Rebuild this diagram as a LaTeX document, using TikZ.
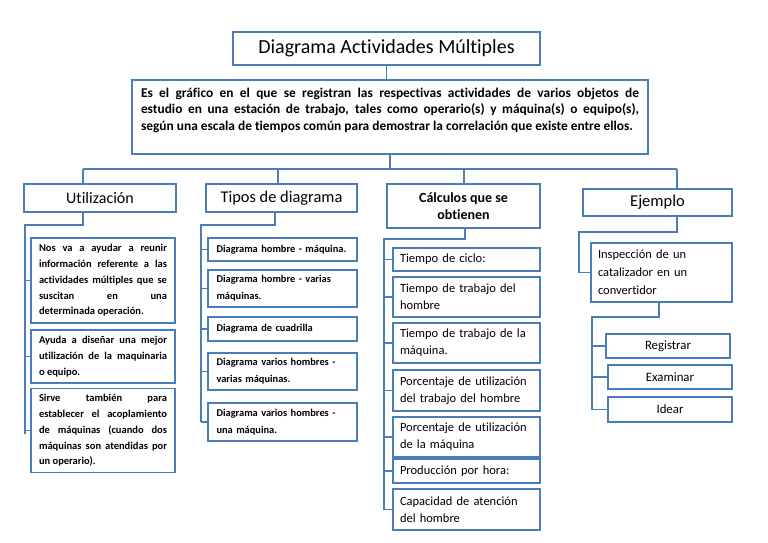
\documentclass[tikz,border=0pt]{standalone}
\usepackage{fontspec}
\setmainfont{Carlito}[Ligatures={NoCommon}]
\definecolor{bl}{RGB}{74,126,187}
\tikzset{
  bx/.style={draw=bl, line width=1.4pt, fill=white, inner xsep=0pt, inner ysep=0pt},
  con/.style={draw=bl, line width=1.8pt},
}
\begin{document}
\begin{tikzpicture}[x=1pt,y=-1pt]
\useasboundingbox (0,0) rectangle (768,543);
% level 0
\node[bx, minimum width=307pt, minimum height=33pt, font=\fontsize{20}{24}\selectfont] (title) at (386.5,48.5) {Diagrama Actividades Múltiples};
\node[bx, minimum width=516pt, minimum height=74pt, text width=498pt, text depth=49pt, align=justify, font=\fontsize{13.4}{16.5}\selectfont\bfseries] (desc) at (390,117) {Es el gráfico en el que se registran las respectivas actividades de varios objetos de\linebreak estudio en una estación de trabajo, tales como operario(s) y máquina(s) o equipo(s),\linebreak según una escala de tiempos común para demostrar la correlación que existe entre ellos.};
% level 1
\node[bx, minimum width=152pt, minimum height=28pt, font=\fontsize{16}{19}\selectfont] (util) at (100,198) {Utilización};
\node[bx, minimum width=151pt, minimum height=28pt, font=\fontsize{16.4}{19}\selectfont] (tipos) at (281.5,198) {Tipos de diagrama};
\node[bx, minimum width=153pt, minimum height=44pt, align=center, font=\fontsize{14}{17}\selectfont\bfseries] (calc) at (463.5,206) {Cálculos que se\\obtienen};
\node[bx, minimum width=149pt, minimum height=27pt, font=\fontsize{16.5}{19}\selectfont] (ejem) at (657.5,202.5) {Ejemplo};
% Utilizacion children
\tikzset{ut/.style={bx, minimum width=144pt, text width=128pt, align=justify, font=\fontsize{10.5}{15.7}\selectfont\bfseries}}
\node[ut, minimum height=85pt] (u1) at (103,280.5) {Nos va a ayudar a reunir\linebreak información referente a las\linebreak actividades múltiples que se\linebreak suscitan en una\linebreak determinada operación.};
\node[ut, minimum height=53pt] (u2) at (103,356.5) {Ayuda a diseñar una mejor\linebreak utilización de la maquinaria\linebreak o equipo.};
\node[ut, minimum height=84pt] (u3) at (103,430.5) {Sirve también para\linebreak establecer el acoplamiento\linebreak de máquinas (cuando dos\linebreak máquinas son atendidas por\linebreak un operario).};
% Tipos children
\tikzset{tp/.style={bx, minimum width=149pt, text width=132pt, align=left, font=\fontsize{10.4}{17}\selectfont\bfseries}}
\node[tp, minimum height=23pt] (t1) at (282.5,249.5) {Diagrama hombre - máquina.};
\node[tp, minimum height=37pt] (t2) at (282.5,288.5) {Diagrama hombre - varias\\máquinas.};
\node[tp, minimum height=24pt] (t3) at (282.5,329) {Diagrama de cuadrilla};
\node[tp, minimum height=37pt] (t4) at (282.5,371.5) {Diagrama varios hombres -\\varias máquinas.};
\node[tp, minimum height=38pt] (t5) at (282.5,422) {Diagrama varios hombres -\\una máquina.};
% Calculos children
\tikzset{cc/.style={bx, minimum width=147pt, text width=133pt, align=left, font=\fontsize{12.5}{17}\selectfont}}
\node[cc, minimum height=23pt] (c1) at (466.5,259.5) {Tiempo de ciclo:};
\node[cc, minimum height=40pt] (c2) at (466.5,297) {Tiempo de trabajo del\\hombre};
\node[cc, minimum height=40pt] (c3) at (466.5,343) {Tiempo de trabajo de la\\máquina.};
\node[cc, minimum height=41pt] (c4) at (466.5,390.5) {Porcentaje de utilización\\del trabajo del hombre};
\node[cc, minimum height=40pt] (c5) at (466.5,437) {Porcentaje de utilización\\de la máquina};
\node[cc, minimum height=24pt] (c6) at (466.5,471) {Producción por hora:};
\node[cc, minimum height=41pt] (c7) at (466.5,509.5) {Capacidad de atención\\del hombre};
% Ejemplo children
\node[bx, minimum width=141pt, minimum height=59pt, text width=127pt, align=left, font=\fontsize{12.5}{18}\selectfont] (insp) at (661.5,272.5) {Inspección de un\\catalizador en un\\convertidor};
\tikzset{ej/.style={bx, minimum width=124pt, minimum height=24pt, font=\fontsize{12.8}{15}\selectfont}}
\node[ej] (r1) at (668,346) {Registrar};
\node[ej] (r2) at (670,377) {Examinar};
\node[ej, minimum height=25pt] (r3) at (670,409.5) {Idear};
% connectors level 0/1
\coordinate (bus) at (390,169);
\coordinate (bl) at (83,169);
\coordinate (tb) at (278,169);
\coordinate (cb) at (464,169);
\coordinate (br) at (677,169);
\draw[con] (title.south) -- (title.south |- desc.north);
\draw[con] (desc.south) -- (desc.south |- bus);
\draw[con] (bl) -- (br);
\draw[con] (bl) -- (bl |- util.north);
\draw[con] (tb) -- (tb |- tipos.north);
\draw[con] (cb) -- (cb |- calc.north);
\draw[con] (br) -- (br |- ejem.north);
% Utilizacion branch
\coordinate (ua) at (83,225);
\coordinate (ul) at (25,225);
\coordinate (ue) at (25,434);
\draw[con] (ua |- util.south) -- (ua) -- (ul) -- (ue);
\foreach \n in {u1,u2,u3} \draw[con] (\n.west -| ul) -- (\n.west);
% Tipos branch
\coordinate (ta) at (275,225);
\coordinate (tl) at (201,225);
\coordinate (te) at (201,422);
\draw[con] (ta |- tipos.south) -- (ta) -- (tl) -- (te);
\foreach \n in {t1,t2,t3,t4,t5} \draw[con] (\n.west -| tl) -- (\n.west);
% Calculos branch
\coordinate (ca) at (465,239);
\coordinate (cl) at (384,239);
\coordinate (ce) at (384,510);
\draw[con] (ca |- calc.south) -- (ca) -- (cl) -- (ce);
\foreach \n in {c1,c2,c3,c4,c5,c6,c7} \draw[con] (\n.west -| cl) -- (\n.west);
% Ejemplo branch
\coordinate (ea) at (677,232);
\coordinate (el) at (579,232);
\draw[con] (ea |- ejem.south) -- (ea) -- (el) -- (el |- insp.west) -- (insp.west);
\coordinate (ia) at (659,317);
\coordinate (il) at (592,317);
\coordinate (ie) at (592,410);
\draw[con] (ia |- insp.south) -- (ia) -- (il) -- (ie);
\foreach \n in {r1,r2,r3} \draw[con] (\n.west -| il) -- (\n.west);
\end{tikzpicture}
\end{document}
